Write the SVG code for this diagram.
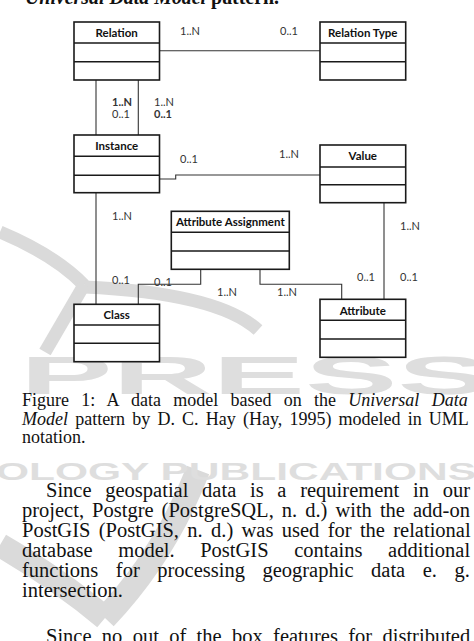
<svg xmlns="http://www.w3.org/2000/svg" width="474" height="641" viewBox="0 0 474 641">
<style>
.box{fill:#fff;stroke:#1a1a1a;stroke-width:1.6}
.dv{stroke:#1a1a1a;stroke-width:1.6}
.cn{fill:none;stroke:#333;stroke-width:1.1}
.nm{font-family:Lato,"Open Sans",sans-serif;font-weight:700;font-size:11.5px;fill:#111;text-anchor:middle}
.m{font-family:Lato,"Open Sans",sans-serif;font-size:11px;fill:#333}
.mb{font-weight:700}
.tx{font-family:"Liberation Serif","Times New Roman",serif;fill:#111}
.cap{font-size:18px}
.bd{font-size:20.5px}
.wm{fill:#dedede}
.ws{fill:none;stroke:#dadada;stroke-linecap:butt}
</style>
<rect width="474" height="641" fill="#fff"/>
<g id="watermark">
<path class="ws" stroke-width="13" d="M0,232 Q55,255 84,285"/>
<path class="ws" stroke-width="13" d="M84,287 C150,290 225,300 258,330"/>
<path class="ws" stroke-width="13" d="M84,285 L45,352"/>
<path class="ws" stroke-width="24" d="M198,470 Q165,555 105,618"/>
<path class="ws" stroke-width="24" d="M0,545 Q60,580 105,618"/>
<text class="wm" x="20" y="394" font-family="Liberation Sans,sans-serif" font-weight="700" font-size="54" textLength="470" lengthAdjust="spacingAndGlyphs">PRESS</text>
<text class="wm" x="-4" y="480" font-family="Liberation Sans,sans-serif" font-weight="700" font-size="24" textLength="480" lengthAdjust="spacingAndGlyphs">OLOGY PUBLICATIONS</text>
</g>
<text class="tx" x="25" y="3.5" font-size="20" font-weight="700" textLength="254" lengthAdjust="spacingAndGlyphs"><tspan font-style="italic">Universal Data Model</tspan> pattern.</text>
<g id="connectors">
<path class="cn" d="M159.5,50.7H320"/>
<path class="cn" d="M96,80V135"/>
<path class="cn" d="M138.3,80V135"/>
<path class="cn" d="M159.5,179H175.7V175H320"/>
<path class="cn" d="M96,192.7V304.3"/>
<path class="cn" d="M384,202.7V299.3"/>
<path class="cn" d="M200.7,269.3V284.3H138.3V304.3"/>
<path class="cn" d="M260,269.3V284.3H341.7V299.3"/>
<text class="m" x="180" y="35">1..N</text>
<text class="m" x="280" y="35">0..1</text>
<text class="m mb" x="112" y="105.5">1..N</text>
<text class="m" x="154" y="105.5">1..N</text>
<text class="m" x="112" y="117.8">0..1</text>
<text class="m mb" x="154" y="117.8">0..1</text>
<text class="m" x="180" y="163">0..1</text>
<text class="m" x="279" y="158">1..N</text>
<text class="m" x="112" y="220">1..N</text>
<text class="m" x="400" y="230">1..N</text>
<text class="m" x="112" y="284">0..1</text>
<text class="m" x="154" y="285.5">0..1</text>
<text class="m" x="217" y="295.5">1..N</text>
<text class="m" x="277" y="295.5">1..N</text>
<text class="m" x="357" y="280.5">0..1</text>
<text class="m" x="400" y="280.5">0..1</text>
</g>
<g id="relation">
<rect class="box" x="74" y="22" width="85.5" height="58"/>
<path class="dv" d="M74,43H159.5M74,61.7H159.5"/>
<text class="nm" x="116.7" y="37">Relation</text>
</g>
<g id="relation-type">
<rect class="box" x="320" y="22" width="85.7" height="58"/>
<path class="dv" d="M320,43H405.7M320,61.7H405.7"/>
<text class="nm" x="362.8" y="37.2">Relation Type</text>
</g>
<g id="instance">
<rect class="box" x="74" y="135" width="85.5" height="57.7"/>
<path class="dv" d="M74,156.3H159.5M74,175.3H159.5"/>
<text class="nm" x="116.7" y="150">Instance</text>
</g>
<g id="value">
<rect class="box" x="320" y="145" width="85.7" height="57.7"/>
<path class="dv" d="M320,167H405.7M320,184.7H405.7"/>
<text class="nm" x="362.8" y="160.3">Value</text>
</g>
<g id="attribute-assignment">
<rect class="box" x="171.3" y="211.3" width="118" height="58"/>
<path class="dv" d="M171.3,232.3H289.3M171.3,251H289.3"/>
<text class="nm" x="230.3" y="226.3">Attribute Assignment</text>
</g>
<g id="class">
<rect class="box" x="74" y="304.3" width="85.5" height="57.4"/>
<path class="dv" d="M74,325H159.5M74,343.3H159.5"/>
<text class="nm" x="116.7" y="318.5">Class</text>
</g>
<g id="attribute">
<rect class="box" x="320" y="299.3" width="85.7" height="58"/>
<path class="dv" d="M320,320.3H405.7M320,339H405.7"/>
<text class="nm" x="362.8" y="314.5">Attribute</text>
</g>
<g id="caption" class="tx cap">
<text x="22" y="406" word-spacing="7.8">Figure 1: A data model based on the <tspan font-style="italic">Universal Data</tspan></text>
<text x="22" y="424.5" word-spacing="2.66"><tspan font-style="italic">Model</tspan> pattern by D. C. Hay (Hay, 1995) modeled in UML</text>
<text x="22" y="443">notation.</text>
</g>
<g id="body" class="tx bd">
<text x="46" y="497" word-spacing="8.6">Since geospatial data is a requirement in our</text>
<text x="22" y="517" word-spacing="2.9">project, Postgre (PostgreSQL, n. d.) with the add-on</text>
<text x="22" y="537" word-spacing="3.2">PostGIS (PostGIS, n. d.) was used for the relational</text>
<text x="22" y="557" word-spacing="20.5">database model. PostGIS contains additional</text>
<text x="22" y="577" word-spacing="12.4">functions for processing geographic data e. g.</text>
<text x="22" y="597">intersection.</text>
<text x="46" y="643" word-spacing="5.2">Since no out of the box features for distributed</text>
</g>
</svg>
